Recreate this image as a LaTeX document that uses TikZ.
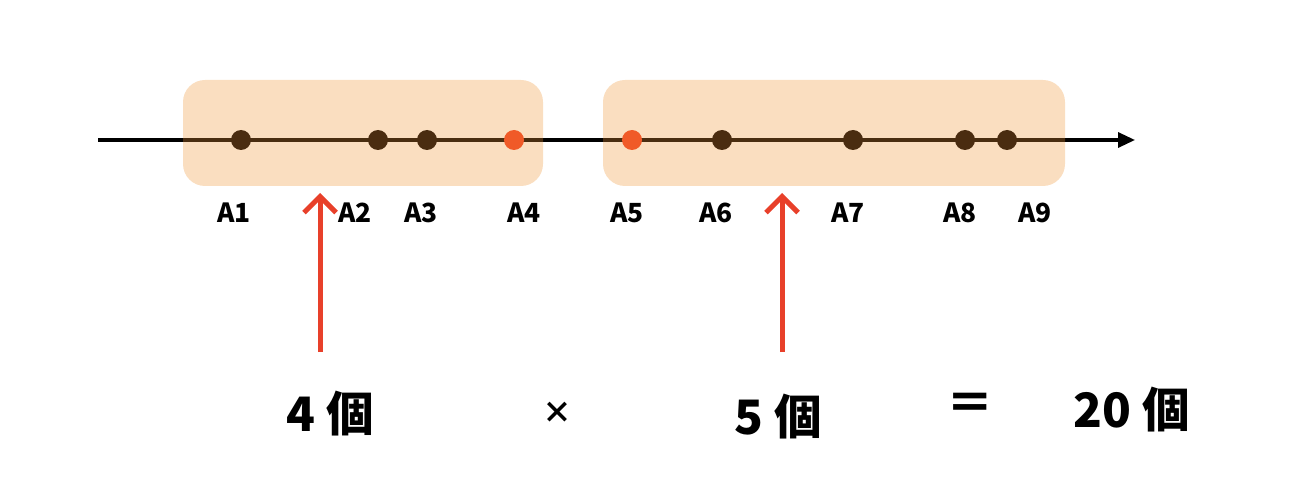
\documentclass[tikz,border=0pt]{standalone}
\usepackage{fontspec}
\setmainfont{Noto Sans CJK JP}
\usetikzlibrary{arrows.meta}
\definecolor{boxfill}{HTML}{EE9434}
\definecolor{dotbrown}{HTML}{4A2C10}
\definecolor{dotorange}{HTML}{F05A28}
\definecolor{arrowred}{HTML}{E8402A}
\tikzset{
  pt/.style={circle, inner sep=0pt, minimum size=0.4cm, fill=dotbrown},
  ptred/.style={pt, fill=dotorange},
  lbl/.style={font=\fontsize{15}{18}\selectfont\bfseries},
  big/.style={font=\fontsize{27}{32}\selectfont\bfseries},
  group/.style={fill=boxfill, opacity=0.31, rounded corners=0.44cm},
  uparrow/.style={draw=arrowred, line width=.1cm, -{Straight Barb[length=0.32cm, width=0.64cm, line width=.1cm]}}
}
\begin{document}
\begin{tikzpicture}[x=0.02cm, y=-0.02cm]
\useasboundingbox (0,0) rectangle (1300,496);
\draw[line width=.065cm, -{Triangle[length=0.34cm, width=0.3cm]}] (98,140) -- (1135,140);
\fill[group] (183,80) rectangle (543,186);
\fill[group] (603,80) rectangle (1065,186);
% points
\node[pt] (p1) at (241,140) {};
\node[pt] (p2) at (378,140) {};
\node[pt] (p3) at (427,140) {};
\node[ptred] (p4) at (514,140) {};
\node[ptred] (p5) at (632,140) {};
\node[pt] (p6) at (722,140) {};
\node[pt] (p7) at (853,140) {};
\node[pt] (p8) at (965,140) {};
\node[pt] (p9) at (1007,140) {};
% labels
\node[lbl] (a1) at (234,213) {A1};
\node[lbl] (a2) at (355,213) {A2};
\node[lbl] (a3) at (421,213) {A3};
\node[lbl] (a4) at (524,213) {A4};
\node[lbl] (a5) at (627,213) {A5};
\node[lbl] (a6) at (716,213) {A6};
\node[lbl] (a7) at (848,213) {A7};
\node[lbl] (a8) at (960,213) {A8};
\node[lbl] (a9) at (1035,213) {A9};
% arrows
\coordinate (s1) at (320,352);
\coordinate (t1) at (320,193);
\coordinate (s2) at (782,352);
\coordinate (t2) at (782,193);
\draw[uparrow] (s1) -- (t1);
\draw[uparrow] (s2) -- (t2);
% result
\node[big] (n1) at (330,414) {4 個};
\node[big, font=\fontsize{17}{20}\selectfont\bfseries] (times) at (557,413) {×};
\node[big] (n2) at (778,417) {5 個};
\node[big] (eq) at (970,407) {＝};
\node[big] (n3) at (1132,410) {20 個};
\end{tikzpicture}
\end{document}
